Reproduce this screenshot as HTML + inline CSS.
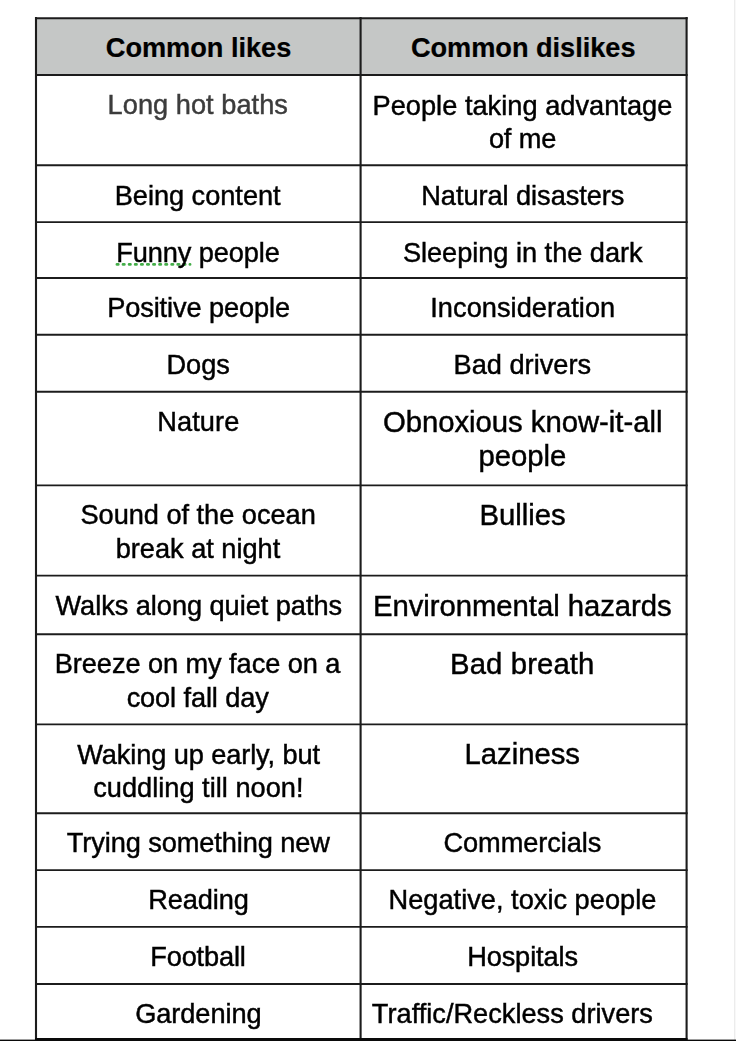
<!DOCTYPE html>
<html><head><meta charset="utf-8"><title>Common likes and dislikes</title>
<style>
html,body{margin:0;padding:0;background:#fff;}
body{width:736px;height:1041px;position:relative;overflow:hidden;font-family:"Liberation Sans",sans-serif;}
#pg{position:absolute;left:0;top:0;width:736px;height:1047px;filter:blur(0.60px);}
.hd{position:absolute;background:#c5c7c6;}
svg{position:absolute;left:0;top:0;}
.t{position:absolute;white-space:nowrap;font-size:27.20px;line-height:32px;height:32px;color:#000;-webkit-text-stroke:0.45px currentColor;}
.b{font-weight:bold;color:#000;-webkit-text-stroke:0.2px #000;}
</style></head><body><div id="pg">

<div class="hd" style="left:36.0px;top:18.0px;width:650.6px;height:57.0px"></div>
<svg width="736" height="1047" viewBox="0 0 736 1047">
<line x1="734.7" y1="0" x2="734.7" y2="1047" stroke="#ececec" stroke-width="1.3"/>
<line x1="35.0" y1="18.3" x2="687.6" y2="18.3" stroke="#1c1c1c" stroke-width="1.9"/>
<line x1="35.0" y1="75.0" x2="687.6" y2="75.0" stroke="#1c1c1c" stroke-width="1.9"/>
<line x1="35.0" y1="165.3" x2="687.6" y2="165.3" stroke="#1c1c1c" stroke-width="1.9"/>
<line x1="35.0" y1="222.1" x2="687.6" y2="222.1" stroke="#1c1c1c" stroke-width="1.9"/>
<line x1="35.0" y1="278.0" x2="687.6" y2="278.0" stroke="#1c1c1c" stroke-width="1.9"/>
<line x1="35.0" y1="334.8" x2="687.6" y2="334.8" stroke="#1c1c1c" stroke-width="1.9"/>
<line x1="35.0" y1="391.8" x2="687.6" y2="391.8" stroke="#1c1c1c" stroke-width="1.9"/>
<line x1="35.0" y1="485.4" x2="687.6" y2="485.4" stroke="#1c1c1c" stroke-width="1.9"/>
<line x1="35.0" y1="575.6" x2="687.6" y2="575.6" stroke="#1c1c1c" stroke-width="1.9"/>
<line x1="35.0" y1="634.2" x2="687.6" y2="634.2" stroke="#1c1c1c" stroke-width="1.9"/>
<line x1="35.0" y1="724.4" x2="687.6" y2="724.4" stroke="#1c1c1c" stroke-width="1.9"/>
<line x1="35.0" y1="813.2" x2="687.6" y2="813.2" stroke="#1c1c1c" stroke-width="1.9"/>
<line x1="35.0" y1="870.1" x2="687.6" y2="870.1" stroke="#1c1c1c" stroke-width="1.9"/>
<line x1="35.0" y1="926.9" x2="687.6" y2="926.9" stroke="#1c1c1c" stroke-width="1.9"/>
<line x1="35.0" y1="984.0" x2="687.6" y2="984.0" stroke="#1c1c1c" stroke-width="1.9"/>
<line x1="36.0" y1="17.1" x2="36.0" y2="1047" stroke="#1c1c1c" stroke-width="2.1"/>
<line x1="360.6" y1="17.1" x2="360.6" y2="1047" stroke="#1c1c1c" stroke-width="2.1"/>
<line x1="686.6" y1="17.1" x2="686.6" y2="1047" stroke="#1c1c1c" stroke-width="2.1"/>
<rect x="-4" y="1039.6" width="744" height="8" fill="#0a0a0a"/><rect x="35.1" y="1038" width="652.4" height="8" fill="#0a0a0a"/>
<line x1="117" y1="264.4" x2="190" y2="264.4" stroke="#43ad48" stroke-width="2.9" stroke-linecap="round" stroke-dasharray="1.2 4.88"/>
</svg>
<div id="l1" class="t b" style="left:105.79px;top:32.00px;letter-spacing:-0.031px;">Common likes</div>
<div id="l2" class="t" style="left:107.58px;top:89.00px;letter-spacing:0.037px;color:#3c3c3c;">Long hot baths</div>
<div id="l3" class="t" style="left:114.72px;top:180.00px;letter-spacing:-0.032px;">Being content</div>
<div id="l4" class="t" style="left:116.18px;top:237.00px;letter-spacing:-0.102px;">Funny people</div>
<div id="l5" class="t" style="left:107.13px;top:292.00px;letter-spacing:-0.100px;">Positive people</div>
<div id="l6" class="t" style="left:166.53px;top:349.00px;letter-spacing:-0.054px;">Dogs</div>
<div id="l7" class="t" style="left:157.24px;top:406.00px;letter-spacing:0.088px;">Nature</div>
<div id="l8" class="t" style="left:80.48px;top:499.00px;letter-spacing:-0.031px;">Sound of the ocean</div>
<div id="l9" class="t" style="left:115.74px;top:533.00px;letter-spacing:-0.019px;">break at night</div>
<div id="l10" class="t" style="left:55.53px;top:590.00px;letter-spacing:-0.050px;">Walks along quiet paths</div>
<div id="l11" class="t" style="left:54.72px;top:648.00px;letter-spacing:-0.068px;">Breeze on my face on a</div>
<div id="l12" class="t" style="left:126.64px;top:682.00px;letter-spacing:-0.114px;">cool fall day</div>
<div id="l13" class="t" style="left:77.23px;top:739.00px;letter-spacing:-0.105px;">Waking up early, but</div>
<div id="l14" class="t" style="left:93.15px;top:772.00px;letter-spacing:0.013px;">cuddling till noon!</div>
<div id="l15" class="t" style="left:66.87px;top:827.00px;letter-spacing:-0.097px;">Trying something new</div>
<div id="l16" class="t" style="left:148.24px;top:884.00px;letter-spacing:-0.109px;">Reading</div>
<div id="l17" class="t" style="left:150.24px;top:941.00px;letter-spacing:-0.157px;">Football</div>
<div id="l18" class="t" style="left:135.23px;top:998.00px;letter-spacing:-0.074px;">Gardening</div>
<div id="r1" class="t b" style="left:410.88px;top:32.00px;letter-spacing:-0.030px;">Common dislikes</div>
<div id="r2" class="t" style="left:372.53px;top:90.00px;letter-spacing:0.022px;">People taking advantage</div>
<div id="r3" class="t" style="left:488.88px;top:123.00px;letter-spacing:-0.146px;">of me</div>
<div id="r4" class="t" style="left:421.24px;top:180.00px;letter-spacing:-0.050px;">Natural disasters</div>
<div id="r5" class="t" style="left:402.89px;top:237.00px;letter-spacing:-0.028px;">Sleeping in the dark</div>
<div id="r6" class="t" style="left:430.25px;top:292.00px;letter-spacing:0.038px;">Inconsideration</div>
<div id="r7" class="t" style="left:453.53px;top:349.00px;letter-spacing:0.010px;">Bad drivers</div>
<div id="r8" class="t" style="left:382.89px;top:406.00px;letter-spacing:-0.027px;font-size:29.30px;">Obnoxious know-it-all</div>
<div id="r9" class="t" style="left:478.60px;top:440.00px;letter-spacing:-0.041px;font-size:29.30px;">people</div>
<div id="r10" class="t" style="left:479.48px;top:499.00px;letter-spacing:-0.006px;font-size:29.30px;">Bullies</div>
<div id="r11" class="t" style="left:373.03px;top:590.00px;letter-spacing:-0.054px;font-size:29.30px;">Environmental hazards</div>
<div id="r12" class="t" style="left:450.03px;top:648.00px;letter-spacing:0.111px;font-size:29.30px;">Bad breath</div>
<div id="r13" class="t" style="left:464.48px;top:738.00px;letter-spacing:-0.018px;font-size:29.30px;">Laziness</div>
<div id="r14" class="t" style="left:443.44px;top:827.00px;letter-spacing:-0.066px;">Commercials</div>
<div id="r15" class="t" style="left:388.53px;top:884.00px;letter-spacing:0.015px;">Negative, toxic people</div>
<div id="r16" class="t" style="left:467.13px;top:941.00px;letter-spacing:-0.117px;">Hospitals</div>
<div id="r17" class="t" style="left:371.87px;top:998.00px;letter-spacing:0.003px;">Traffic/Reckless drivers</div>
</div></body></html>
